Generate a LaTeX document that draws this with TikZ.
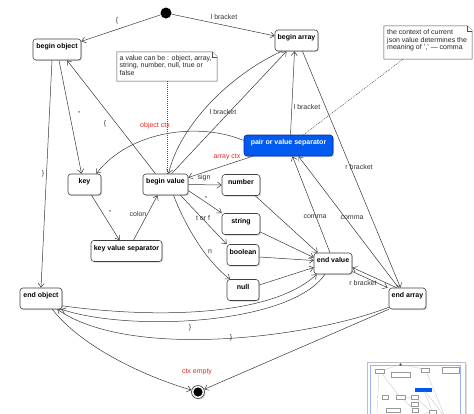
\documentclass[tikz,border=0pt]{standalone}
\usepackage{fontspec}
\setmainfont{Liberation Sans}
\usetikzlibrary{arrows.meta,shadows}
\definecolor{edgec}{RGB}{55,55,55}
\definecolor{redl}{RGB}{230,40,40}
\definecolor{blueb}{RGB}{0,90,240}
\definecolor{bluebd}{RGB}{0,45,160}
\definecolor{thumbb}{RGB}{150,180,235}
\begin{document}
\begin{tikzpicture}[x=1pt,y=-1pt,
  stbox/.style={draw=black!75, line width=0.6pt, rounded corners=3pt, fill=white,
    font=\bfseries\fontsize{7}{8}\selectfont, inner xsep=2pt, inner ysep=3.5pt,
    text height=6pt, text depth=8pt, minimum height=21pt,
    drop shadow={shadow xshift=1.2pt, shadow yshift=-1.2pt, fill=black, opacity=0.15}},
  tr/.style={draw=edgec, line width=0.5pt, -{Straight Barb[length=4pt,width=6pt]}},
  lbl/.style={font=\fontsize{7}{8}\selectfont, text=black!80, inner sep=0pt},
  rlbl/.style={lbl, text=redl},
  notebox/.style={inner sep=0pt},
  notedraw/.style={draw=black!70, line width=0.5pt, fill=white},
  notetext/.style={font=\fontsize{7}{7.4}\selectfont, align=left, inner sep=0pt, text=black!85},
  notelink/.style={draw=black!70, line width=0.5pt, dash pattern=on 1pt off 1pt},
]
\useasboundingbox (0,0) rectangle (474,413);

% notes
\node[notebox, minimum width=100pt, minimum height=29pt] (n1) at (167,66.5) {};
\draw[notedraw] (n1.north west) -- ([xshift=-5pt]n1.north east) -- ([yshift=-5pt]n1.north east) -- (n1.south east) -- (n1.south west) -- cycle;
\draw[notedraw] ([xshift=-5pt]n1.north east) -- ([xshift=-5pt,yshift=-5pt]n1.north east) -- ([yshift=-5pt]n1.north east);
\node[notetext, anchor=north west] (t1) at (119.5,55) {a value can be : object, array,\\string, number, null, true or\\false};

\node[notebox, minimum width=88pt, minimum height=33pt] (n2) at (428,42.5) {};
\draw[notedraw] (n2.north west) -- ([xshift=-5pt]n2.north east) -- ([yshift=-5pt]n2.north east) -- (n2.south east) -- (n2.south west) -- cycle;
\draw[notedraw] ([xshift=-5pt]n2.north east) -- ([xshift=-5pt,yshift=-5pt]n2.north east) -- ([yshift=-5pt]n2.north east);
\node[notetext, anchor=north west] (t2) at (387,29.5) {the context of current\\json value determines the\\meaning of ',' --- comma};

% states
\node[circle, fill=black, minimum size=11pt, inner sep=0pt] (start) at (166,13) {};
\node[stbox, minimum width=48pt] (bo) at (57,49.5) {begin object};
\node[stbox, minimum width=43pt] (ba) at (296.5,40.5) {begin array};
\node[stbox, minimum width=89pt, fill=blueb, draw=bluebd, text=white] (pvs) at (288.5,145.5) {pair or value separator};
\node[stbox, minimum width=33pt] (key) at (84.5,184.5) {key};
\node[stbox, minimum width=45pt] (bv) at (165.5,184.5) {begin value};
\node[stbox, minimum width=38pt] (num) at (241,185) {number};
\node[stbox, minimum width=38pt] (str) at (241,224) {string};
\node[stbox, minimum width=32pt] (bool) at (243,255) {boolean};
\node[stbox, minimum width=32pt] (null) at (243,290) {null};
\node[stbox, minimum width=71pt] (kvs) at (126.5,251) {key value separator};
\node[stbox, minimum width=38pt] (ev) at (333,263.5) {end value};
\node[stbox, minimum width=37pt] (ea) at (407.5,298.5) {end array};
\node[stbox, minimum width=42pt] (eo) at (41,298.5) {end object};
\node[circle, draw=black!80, line width=0.6pt, fill=white, minimum size=13pt, inner sep=0pt,
  drop shadow={shadow xshift=1pt, shadow yshift=-1pt, fill=black, opacity=0.15}] (final) at (198,392) {};
\fill[black] (final.center) circle (4.6);

% note links
\draw[notelink] (n1.south) -- (n1.south |- bv.north);
\draw[notelink] ([xshift=-25pt]n2.south) -- ([xshift=15pt]pvs.north);

% transitions
\draw[tr] (start) -- (bo);
\draw[tr] (start) -- (ba);
\draw[tr] ([xshift=2pt]bo.south) -- ([xshift=-3pt]key.north);
\draw[tr] ([xshift=-10pt]bv.north) -- ([xshift=10pt]bo.south);
\draw[tr] ([xshift=-5pt]bo.south) -- (eo.north);
\draw[tr] ([xshift=7pt]key.south) -- ([xshift=-7pt]kvs.north);
\draw[tr] ([xshift=7pt]kvs.north) -- ([xshift=-8pt]bv.south);
\draw[tr] ([xshift=6pt]bv.north) -- ([xshift=-10pt]ba.south);
\draw[tr] ([xshift=-15pt]ba.south) .. controls (230,75) and (180,125) .. ([xshift=3pt]bv.north);
\draw[tr] ([xshift=2pt]pvs.north) -- ([xshift=-2pt]ba.south);
\draw[tr] ([xshift=6pt]ba.south) -- ([xshift=-7pt]ea.north);
\draw[tr] ([xshift=-3pt]ev.north) -- ([xshift=4pt]pvs.south);
\draw[tr] ([xshift=-9pt]ea.north) -- ([xshift=10pt]pvs.south);
\draw[tr] ([yshift=5pt]pvs.west) .. controls (200,122) and (130,130) .. ([xshift=-5pt]key.north east);
\draw[tr] ([xshift=-36pt]pvs.south) -- ([yshift=7pt]bv.east);
\draw[tr] (bv.east) -- (num.west);
\draw[tr] ([yshift=-6pt]bv.east) -- ([yshift=11pt]str.west);
\draw[tr] ([xshift=15pt]bv.south) -- (bool.north west);
\draw[tr] ([xshift=8pt]bv.south) .. controls (185,225) and (205,260) .. ([xshift=-13pt]null.north);
\draw[tr] ([xshift=-5pt]num.south east) -- ([xshift=4pt]ev.north west);
\draw[tr] ([yshift=-8pt]str.east) -- ([yshift=6pt]ev.west);
\draw[tr] ([yshift=-2pt]bool.east) -- ([yshift=3pt]ev.west);
\draw[tr] ([yshift=5pt]null.east) -- ([yshift=-4pt]ev.west);
\draw[tr] ([yshift=3.5pt]eo.south east) .. controls (150,318) and (270,318) .. ([xshift=3pt]ev.south west);
\draw[tr] ([xshift=-8pt]ev.south) .. controls (290,325) and (130,332) .. ([xshift=-1pt]eo.south east);
\draw[tr] ([yshift=2pt]ea.south west) .. controls (310,338) and (130,360) .. ([xshift=-5pt]eo.south east);
\draw[tr] ([yshift=-8pt]ev.east) -- ([xshift=-1pt]ea.north west);
\draw[tr] ([xshift=8pt]ea.north west) -- ([yshift=-4pt]ev.east);
\draw[tr] (ea.south west) -- (final);
\draw[tr] ([xshift=-10pt]eo.south east) .. controls (80,345) and (140,375) .. (final);

% labels
\node[lbl] (l1) at (117,21) {\{};
\node[lbl] (l2) at (224,17) {l bracket};
\node[lbl] (l3) at (79,114) {"};
\node[lbl] (l4) at (105,124) {\{};
\node[lbl] (l5) at (43,174) {\}};
\node[lbl] (l6) at (110,213) {"};
\node[lbl] (l7) at (138,214) {colon};
\node[lbl] (l8) at (223,112) {l bracket};
\node[rlbl] (l9) at (155,126) {object ctx};
\node[rlbl] (l10) at (227,157) {array ctx};
\node[lbl] (l11) at (307,107) {l bracket};
\node[lbl] (l12) at (359,167) {r bracket};
\node[lbl] (l13) at (315,217) {comma};
\node[lbl] (l14) at (352,218) {comma};
\node[lbl] (l15) at (204,178) {sign};
\node[lbl] (l16) at (206,199) {"};
\node[lbl] (l17) at (203,218) {t or f};
\node[lbl] (l18) at (210,252) {n};
\node[lbl] (l19) at (363,283) {r bracket};
\node[lbl] (l20) at (190,328) {\}};
\node[lbl] (l21) at (231,338) {\}};
\node[rlbl] (l22) at (197,372) {ctx empty};

% overview thumbnail
\begin{scope}
\clip (0,0) rectangle (474,413);
\fill[black!12] (369.5,364) rectangle (467,420);
\filldraw[fill=white, draw=black!25, line width=0.5pt] (367,362) rectangle (465,420);
\draw[thumbb, line width=1pt] (370,365) rectangle (460,420);
\begin{scope}[shift={(369,362)}, scale=0.19]
  \foreach \cx/\cy/\w in {57/49.5/48, 296.5/40.5/43, 84.5/184.5/33, 165.5/184.5/45, 241/185/38, 241/224/38, 243/255/32, 243/290/32, 126.5/251/71, 333/263.5/38, 407.5/298.5/37, 41/298.5/42}
    \draw[black!40, line width=0.3pt] (\cx-\w/2,\cy-10.5) rectangle (\cx+\w/2,\cy+10.5);
  \draw[black!40, line width=0.3pt] (117,52) rectangle (217,81);
  \draw[black!40, line width=0.3pt] (384,26) rectangle (472,59);
  \fill[blueb] (244,135) rectangle (333,156);
  \fill[black] (166,13) circle (6);
  \draw[black!30, line width=0.2pt] (166,13) -- (81,41) (166,13) -- (275,35) (52,60) -- (41,288) (155,174) -- (67,60) (302,51) -- (400,288) (330,253) -- (292,156) (398,288) -- (298,156) (187,185) -- (222,185) (180,195) -- (227,244) (255,196) -- (318,253) (259,290) -- (314,263);
\end{scope}
\end{scope}
\end{tikzpicture}
\end{document}
